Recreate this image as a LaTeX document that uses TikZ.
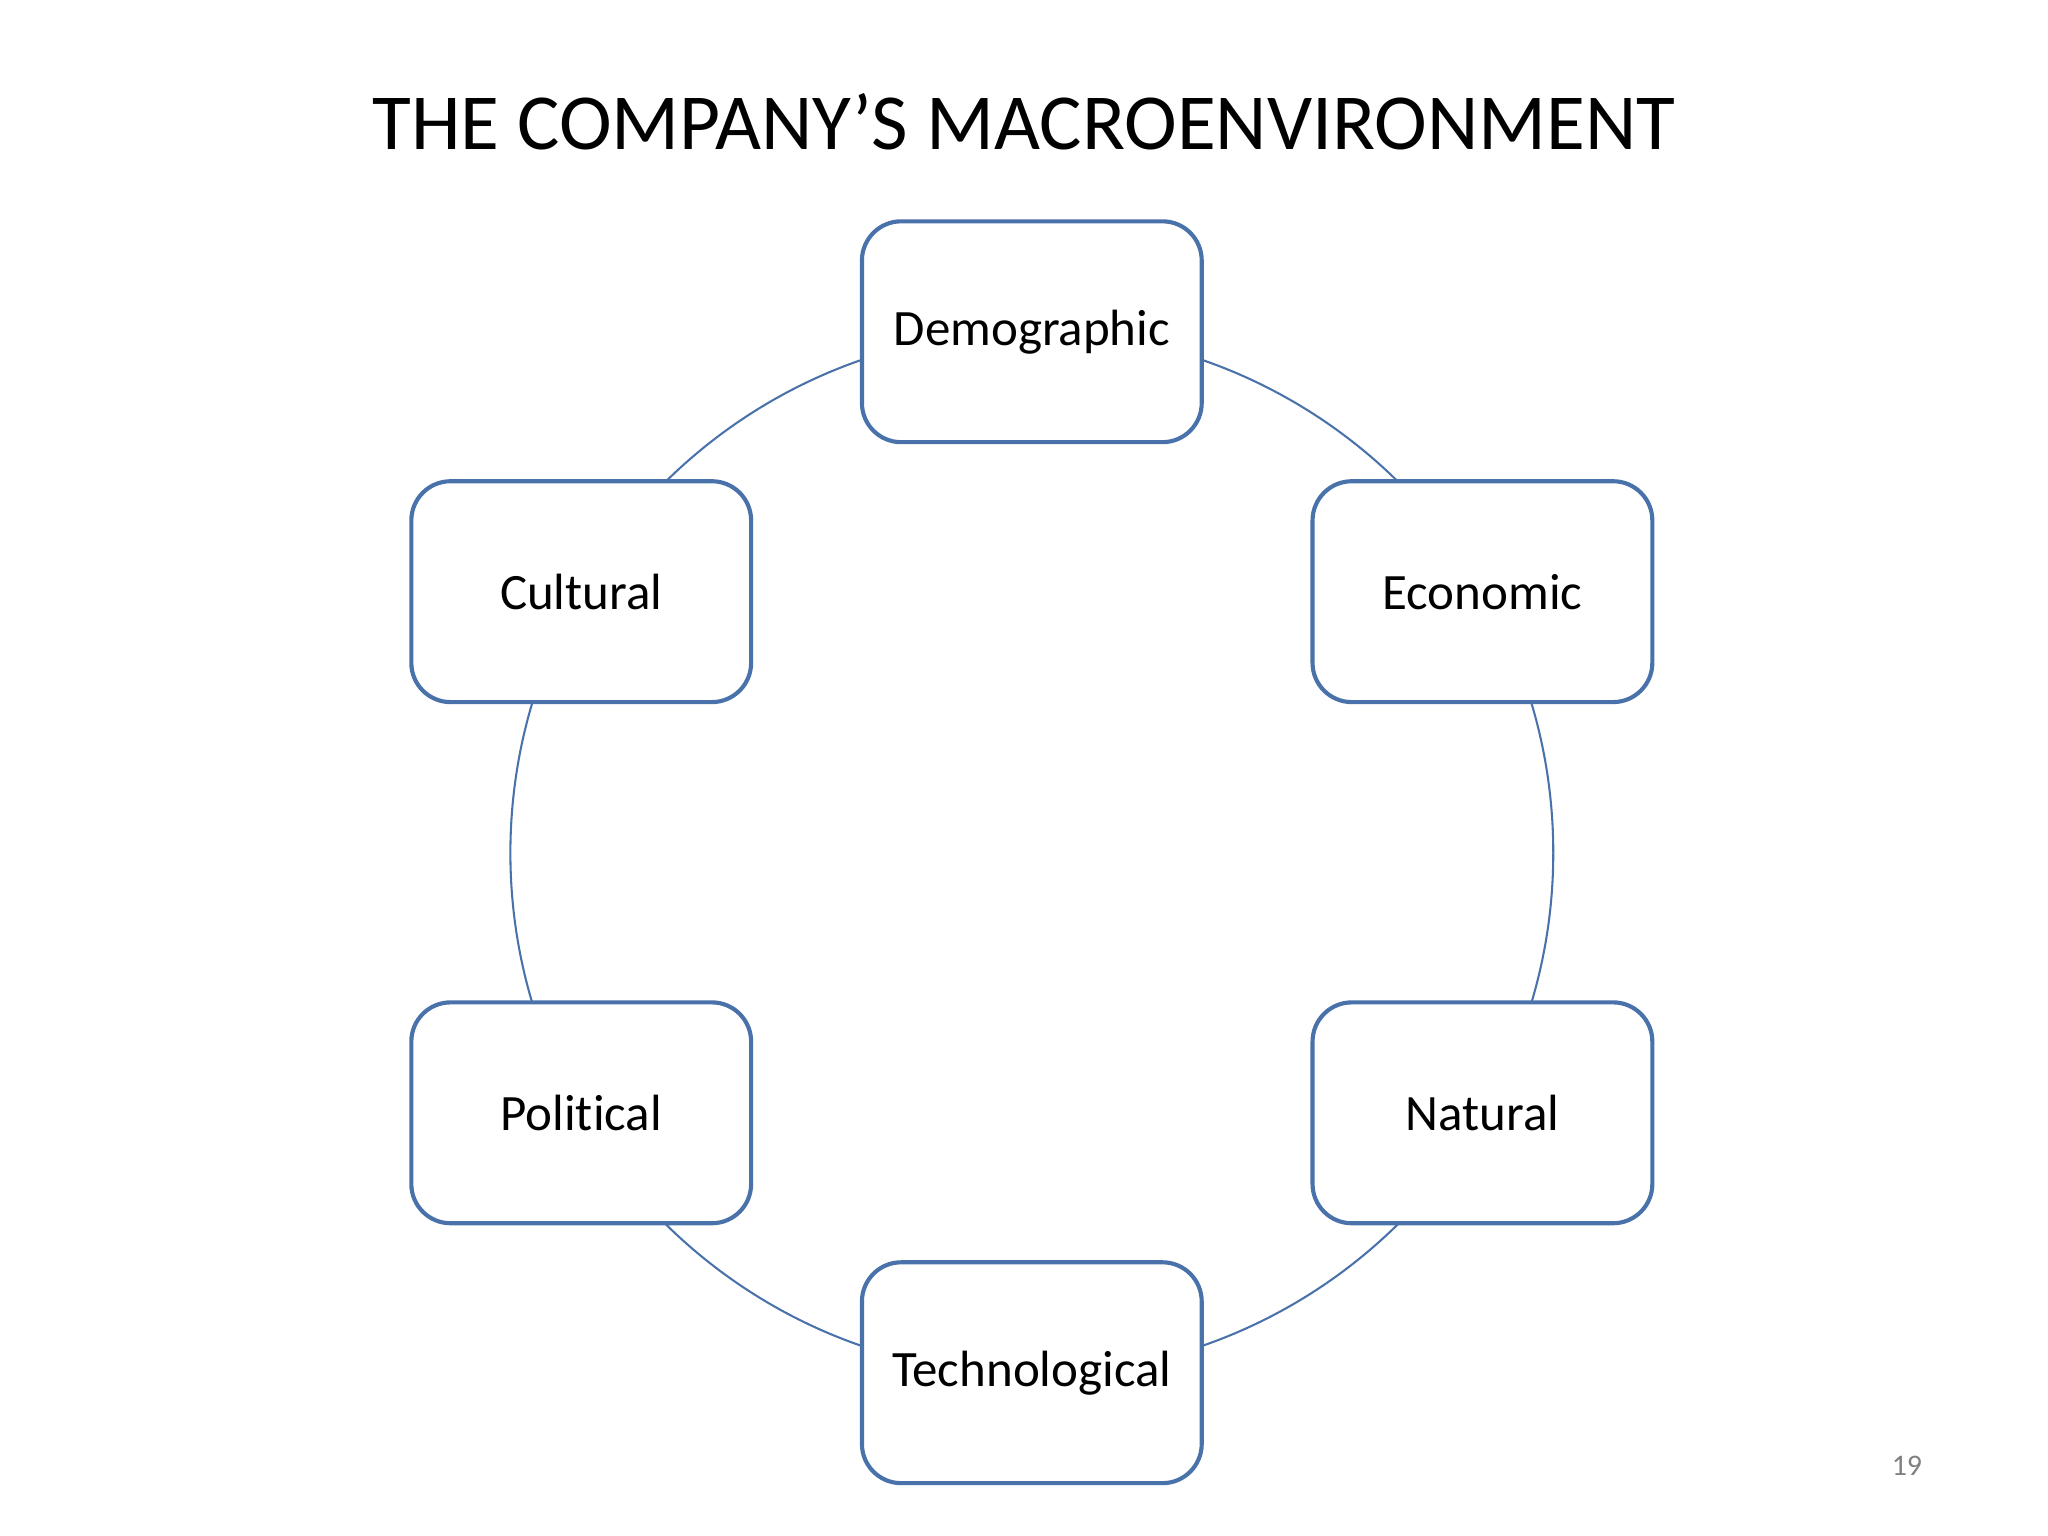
\documentclass[tikz,border=0pt]{standalone}
\usepackage{fontspec}
\setmainfont[Ligatures={NoCommon,NoRare,NoContextual}]{Carlito}
\definecolor{bblue}{HTML}{4A72AA}
\begin{document}
\begin{tikzpicture}[x=0.01cm,y=-0.01cm,
  box/.style={draw=bblue,line width=0.9pt,fill=white,rounded corners=0.3cm,minimum width=2.6cm,minimum height=1.69cm,font=\fontsize{11.1}{13}\selectfont},
  ring/.style={draw=bblue,line width=0.45pt}]
\useasboundingbox (0,0) rectangle (1568,1176);
\node[font=\fontsize{17.3}{21}\selectfont] (title) at (784,93) {THE COMPANY’S MACROENVIRONMENT};
\draw[ring] (790,653) circle (3.99cm);
\node[box] (dem) at (790,254) {Demographic};
\node[box] (eco) at (1135,453) {Economic};
\node[box] (nat) at (1135,852) {Natural};
\node[box] (tec) at (790,1051) {Technological};
\node[box] (pol) at (445,852) {Political};
\node[box] (cul) at (445,453) {Cultural};
\node[text=gray,font=\fontsize{6.5}{8}\selectfont] (pg) at (1460,1122) {19};
\end{tikzpicture}
\end{document}
